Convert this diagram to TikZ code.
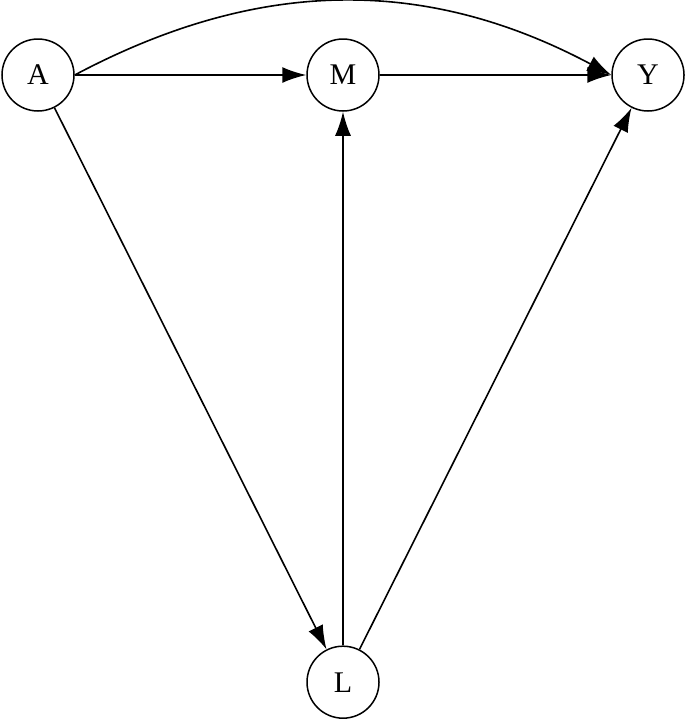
\documentclass[tikz,border=0pt]{standalone}
\usepackage{fontspec}
\setmainfont{Liberation Serif}
\usepackage{tkz-graph}
\usetikzlibrary{calc,arrows.meta}
\tikzset{
  >={Latex[length=12pt,width=8pt]}
}

\begin{document}
\begin{tikzpicture}
    \GraphInit[vstyle=Normal]
    \tikzset{VertexStyle/.append style={minimum size=36pt,inner sep=0pt,
        line width=0.75pt,font=\fontsize{15}{18}\selectfont},
      EdgeStyle/.append style={line width=0.8pt}}
    \SetGraphUnit{5.36}
    \Vertices{line}{A,M,Y}
    \SO[unit=10.67](M){L}
    \useasboundingbox ($(A)+(-19pt,37.5pt)$) rectangle ++(342.5pt,-360pt);
    \Edges[style=->](A,M,Y)
    \Edge[style=->](A)(L)
    \Edge[style=->](L)(M)
    \Edge[style=->](L)(Y)
    \draw[EdgeStyle,->] (A.east) to[out=28,in=152] (Y.west);
  \end{tikzpicture}
\end{document}
